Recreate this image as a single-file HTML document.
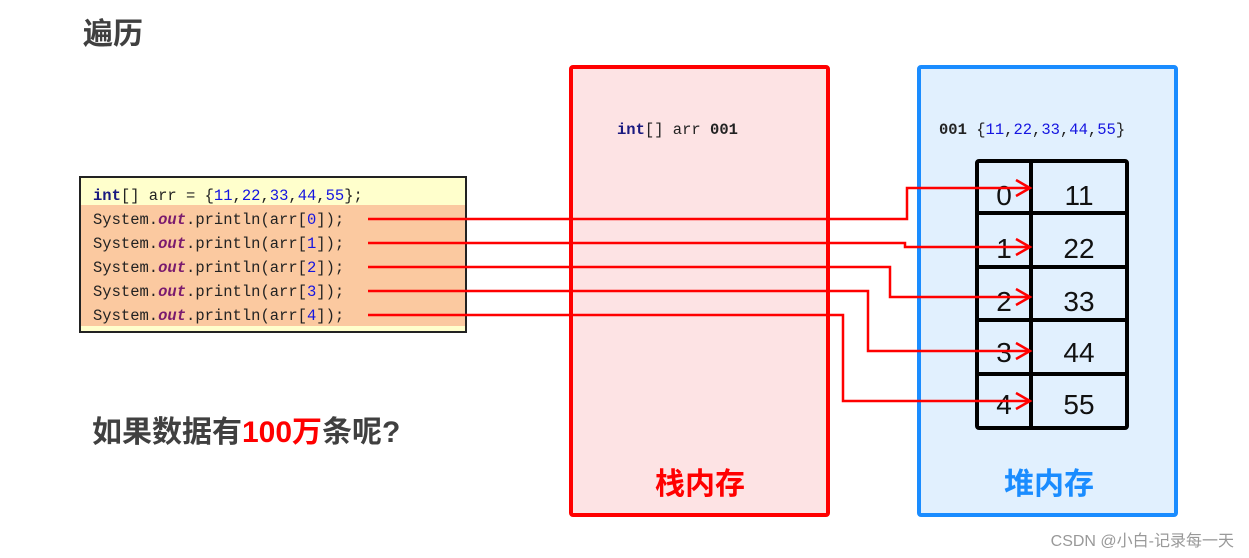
<!DOCTYPE html>
<html><head><meta charset="utf-8"><style>
html,body{margin:0;padding:0;background:#fff;}
svg{display:block;}
.m{font-family:"Liberation Mono","DejaVu Sans Mono",monospace;}
.c{font-family:"Liberation Sans","Noto Sans CJK SC",sans-serif;}
</style></head><body>
<svg width="1249" height="558" viewBox="0 0 1249 558" xmlns="http://www.w3.org/2000/svg">
<text x="83" y="44" class="c" font-size="30" font-weight="bold" fill="#404040">遍历</text>
<!-- code box -->
<rect x="80" y="177" width="386" height="155" fill="#ffffcc" stroke="#222" stroke-width="2"/>
<rect x="81" y="205" width="384" height="121" fill="#fbc9a0"/>
<g class="m" font-size="15.5" fill="#222">
<text x="93" y="200"><tspan fill="#1a1a80" font-weight="bold">int</tspan>[] arr = {<tspan fill="#1515e0">11</tspan>,<tspan fill="#1515e0">22</tspan>,<tspan fill="#1515e0">33</tspan>,<tspan fill="#1515e0">44</tspan>,<tspan fill="#1515e0">55</tspan>};</text>
<text x="93" y="224">System.<tspan fill="#7a1a6e" font-weight="bold" font-style="italic">out</tspan>.println(arr[<tspan fill="#1515e0">0</tspan>]);</text>
<text x="93" y="248">System.<tspan fill="#7a1a6e" font-weight="bold" font-style="italic">out</tspan>.println(arr[<tspan fill="#1515e0">1</tspan>]);</text>
<text x="93" y="272">System.<tspan fill="#7a1a6e" font-weight="bold" font-style="italic">out</tspan>.println(arr[<tspan fill="#1515e0">2</tspan>]);</text>
<text x="93" y="296">System.<tspan fill="#7a1a6e" font-weight="bold" font-style="italic">out</tspan>.println(arr[<tspan fill="#1515e0">3</tspan>]);</text>
<text x="93" y="320">System.<tspan fill="#7a1a6e" font-weight="bold" font-style="italic">out</tspan>.println(arr[<tspan fill="#1515e0">4</tspan>]);</text>
</g>
<text x="92" y="442" class="c" font-size="30" font-weight="bold" fill="#404040">如果数据有<tspan fill="#ff0000">100万</tspan>条呢?</text>
<!-- stack -->
<rect x="571" y="67" width="257" height="448" fill="#fde3e4" stroke="#ff0000" stroke-width="4" rx="2"/>
<text x="617" y="134" class="m" font-size="15.5" fill="#222"><tspan fill="#1a1a80" font-weight="bold">int</tspan>[] arr  <tspan font-weight="bold">001</tspan></text>
<text x="700" y="494" class="c" font-size="30" font-weight="bold" fill="#ff0000" text-anchor="middle">栈内存</text>
<!-- heap -->
<rect x="919" y="67" width="257" height="448" fill="#e1f0fe" stroke="#1a8cff" stroke-width="4" rx="2"/>
<text x="939" y="134" class="m" font-size="15.5" fill="#222"><tspan font-weight="bold">001</tspan> {<tspan fill="#1515e0">11</tspan>,<tspan fill="#1515e0">22</tspan>,<tspan fill="#1515e0">33</tspan>,<tspan fill="#1515e0">44</tspan>,<tspan fill="#1515e0">55</tspan>}</text>
<text x="1049" y="494" class="c" font-size="30" font-weight="bold" fill="#1a8cff" text-anchor="middle">堆内存</text>
<!-- array grid -->
<g stroke="#000" stroke-width="4" fill="none">
<rect x="977" y="161" width="150" height="267" rx="2"/>
<line x1="1031" y1="161" x2="1031" y2="428"/>
<line x1="977" y1="213" x2="1127" y2="213"/>
<line x1="977" y1="267" x2="1127" y2="267"/>
<line x1="977" y1="320" x2="1127" y2="320"/>
<line x1="977" y1="374" x2="1127" y2="374"/>
</g>
<g class="c" font-size="28" fill="#111" text-anchor="middle">
<text x="1004" y="205">0</text><text x="1079" y="205">11</text>
<text x="1004" y="258">1</text><text x="1079" y="258">22</text>
<text x="1004" y="311">2</text><text x="1079" y="311">33</text>
<text x="1004" y="362">3</text><text x="1079" y="362">44</text>
<text x="1004" y="414">4</text><text x="1079" y="414">55</text>
</g>
<!-- arrows -->
<g stroke="#ff0000" stroke-width="2.5" fill="none">
<polyline points="368,219 907,219 907,188 1030,188"/>
<polyline points="368,243 905,243 905,247 1030,247"/>
<polyline points="368,267 890,267 890,297 1030,297"/>
<polyline points="368,291 868,291 868,351 1030,351"/>
<polyline points="368,315 843,315 843,401 1030,401"/>
<polyline points="1016,180 1030,188 1016,196"/>
<polyline points="1016,239 1030,247 1016,255"/>
<polyline points="1016,289 1030,297 1016,305"/>
<polyline points="1016,343 1030,351 1016,359"/>
<polyline points="1016,393 1030,401 1016,409"/>
</g>
<text x="1234" y="546" class="c" font-size="16" fill="#999" text-anchor="end">CSDN @小白-记录每一天</text>
</svg>
</body></html>
